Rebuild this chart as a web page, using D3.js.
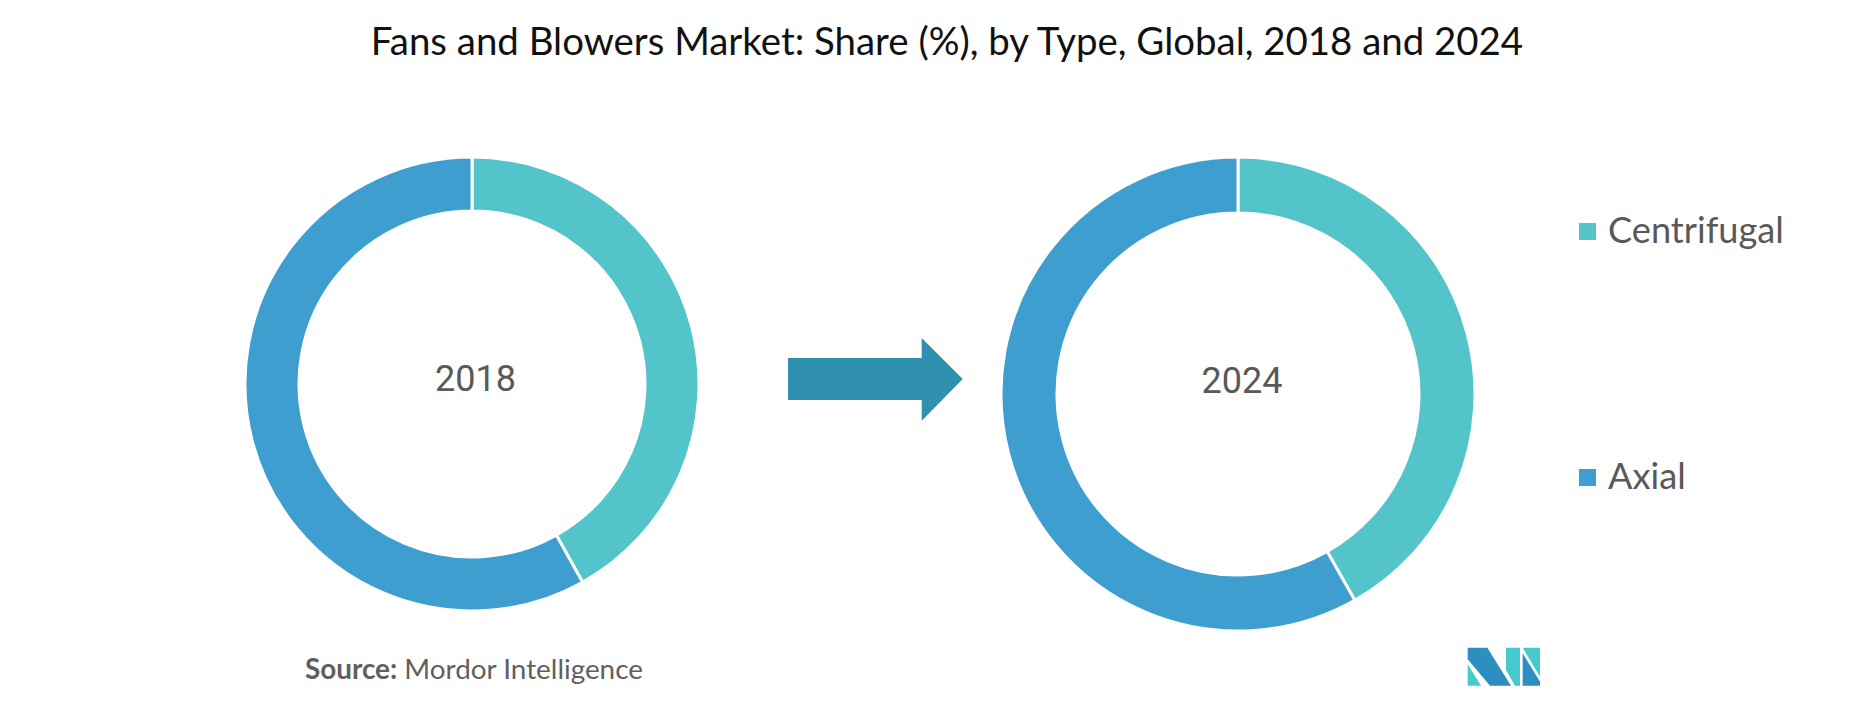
<!DOCTYPE html>
<html>
<head>
<meta charset="utf-8">
<script src="https://cdn.jsdelivr.net/npm/d3@7"></script>
<style>
  html, body { margin: 0; padding: 0; background: #fff; }
  svg { display: block; }
</style>
</head>
<body>
<svg id="chart" width="1852" height="705"></svg>
<script>
// ---- data ----
const categories = ["Centrifugal", "Axial"];
const years = ["2018", "2024"];
const share2018 = [41.9, 58.1];
const share2024 = [41.8, 58.2];
const titleText = "Fans and Blowers Market: Share (%), by Type, Global, 2018 and 2024";
const sourceLabel = "Source:";
const sourceText = " Mordor Intelligence";

const colors = d3.scaleOrdinal().domain(categories).range(["#52c4ca", "#3d9ecf"]);

const svg = d3.select("#chart");

// title
const title = svg.append("text")
  .attr("x", 947).attr("y", 55)
  .attr("text-anchor", "middle")
  .style("font-family", "Lato, 'Open Sans', sans-serif")
  .style("font-size", "34px")
  .style("fill", "#111")
  .text(titleText);
(function fit(t, target) {
  const w = t.node().getComputedTextLength();
  const fs = parseFloat(t.style("font-size"));
  t.style("font-size", (fs * target / w) + "px");
})(title, 1153);

// donuts
const donuts = [
  { year: years[0], values: share2018, cx: 472, cy: 384, r: 227, ir: 173, lx: 475.5, ly: 391 },
  { year: years[1], values: share2024, cx: 1238, cy: 394, r: 237, ir: 181, lx: 1242, ly: 393 }
];

const pie = d3.pie().sort(null).value(d => d.value);

donuts.forEach(dn => {
  const data = categories.map((c, i) => ({ cat: c, value: dn.values[i] }));
  const arc = d3.arc().innerRadius(dn.ir).outerRadius(dn.r);
  const g = svg.append("g").attr("transform", `translate(${dn.cx},${dn.cy})`);
  g.selectAll("path").data(pie(data)).join("path")
    .attr("d", arc)
    .attr("fill", d => colors(d.data.cat))
    .attr("stroke", "#fff")
    .attr("stroke-width", 3);
  svg.append("text")
    .attr("x", dn.lx).attr("y", dn.ly)
    .attr("text-anchor", "middle")
    .style("font-family", "Roboto, sans-serif")
    .style("font-size", "36px")
    .style("fill", "#595959")
    .text(dn.year);
});

// arrow
const arrowPts = [[788,358],[921.7,358],[921.7,338],[962.7,379],[921.7,420.7],[921.7,400],[788,400]];
svg.append("path")
  .attr("d", d3.line()(arrowPts) + "Z")
  .attr("fill", "#2f90b0");

// legend
const legendY = [243, 489];
categories.forEach((c, i) => {
  svg.append("rect")
    .attr("x", 1579).attr("y", legendY[i] - 20)
    .attr("width", 17).attr("height", 17)
    .attr("fill", colors(c));
  const t = svg.append("text")
    .attr("x", 1608).attr("y", legendY[i])
    .style("font-family", "Lato, sans-serif")
    .style("font-size", "32px")
    .style("fill", "#595959")
    .text(c);
  if (i === 0) {
    const w = t.node().getComputedTextLength();
    legendFont = 32 * 176 / w;
  }
});
svg.selectAll("text").filter(function(){ return categories.includes(this.textContent); })
  .style("font-size", legendFont + "px");
var legendFont;

// source
const src = svg.append("text")
  .attr("x", 305).attr("y", 679)
  .style("font-family", "Lato, sans-serif")
  .style("font-size", "26px")
  .style("fill", "#5f5f5f");
src.append("tspan").style("font-weight", "bold").text(sourceLabel);
src.append("tspan").text(sourceText);
(function fit(t, target) {
  const w = t.node().getComputedTextLength();
  const fs = parseFloat(t.style("font-size"));
  t.style("font-size", (fs * target / w) + "px");
})(src, 338);

// logo
const L = (pts) => pts.map(p => [1400 + p[0] / 3, 620 + p[1] / 3]);
const logo = svg.append("g");
logo.append("path").attr("d", d3.line()(L([[203,83],[262,83],[333,197],[270,197],[203,118]])) + "Z").attr("fill", "#2d8fc0");
logo.append("path").attr("d", d3.line()(L([[203,133],[203,197],[243,197]])) + "Z").attr("fill", "#45c9cc");
logo.append("path").attr("d", d3.line()(L([[318,83],[360,83],[360,197],[345,197],[318,150]])) + "Z").attr("fill", "#45c9cc");
logo.append("path").attr("d", d3.line()(L([[368,83],[420,83],[420,170]])) + "Z").attr("fill", "#45c9cc");
logo.append("path").attr("d", d3.line()(L([[368,100],[420,185],[420,197],[368,197]])) + "Z").attr("fill", "#2d8fc0");
</script>
</body>
</html>
